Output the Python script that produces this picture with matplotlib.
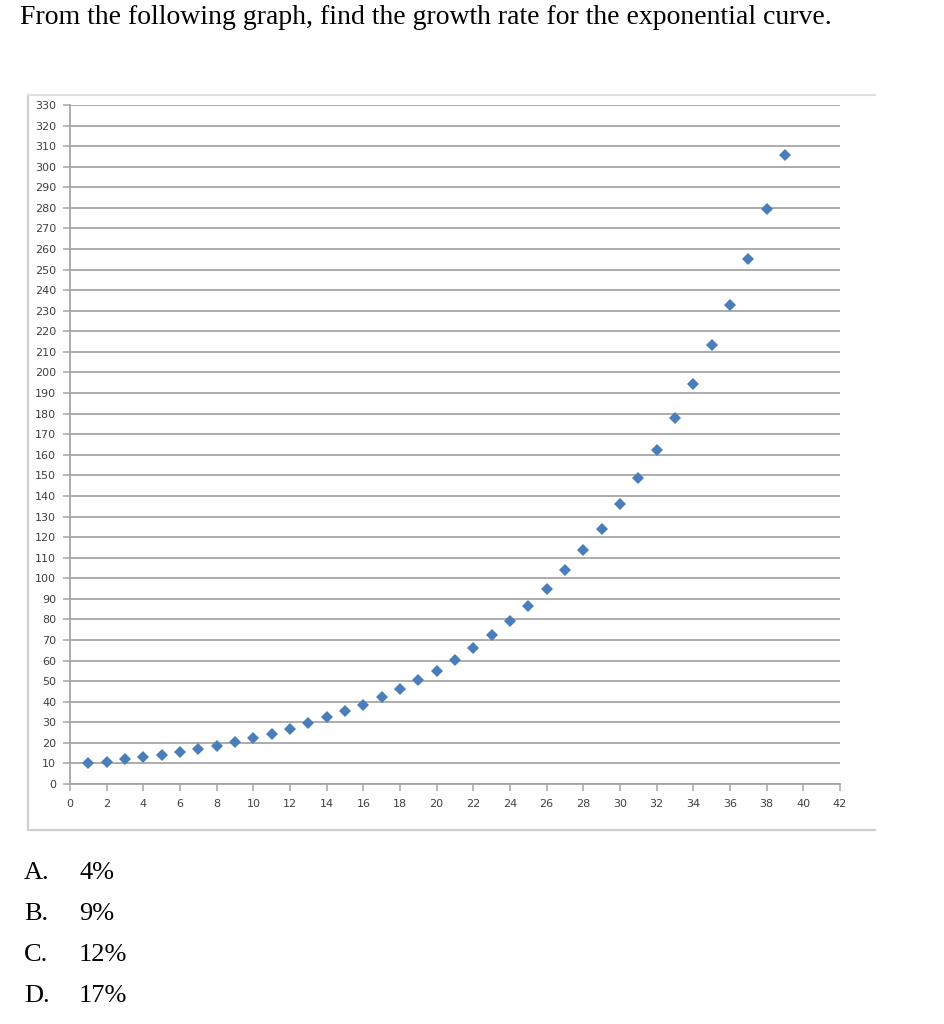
import matplotlib
matplotlib.use("Agg")
import matplotlib.pyplot as plt
from matplotlib.lines import Line2D

title = "From the following graph, find the growth rate for the exponential curve."
x_vals = list(range(1, 40))
y_vals = [10, 10.5, 12.1, 13, 14, 15.4, 16.9, 18.4, 20.3, 22.5,
          24.4, 26.9, 29.5, 32.5, 35.4, 38.5, 42.4, 46.2, 50.4, 54.9,
          60.3, 66, 72.4, 79.4, 86.7, 95, 103.8, 113.7, 123.9, 136,
          148.7, 162.2, 177.9, 194.5, 213.3, 233, 255.2, 279.3, 305.5]
x_ticks = list(range(0, 43, 2))
y_ticks = list(range(0, 331, 10))
option_letters = ["A.", "B.", "C.", "D."]
option_values = ["4%", "9%", "12%", "17%"]

W, H = 944, 1024
fig = plt.figure(figsize=(W / 100, H / 100), dpi=100)
fig.patch.set_facecolor("white")

def fx(px):
    return px / W

def fy(py):
    return 1 - py / H

serif = ["Liberation Serif", "DejaVu Serif"]
fig.text(fx(20), fy(18), title, fontsize=20, family=serif, va="center", ha="left", color="black")

# chart frame (spreadsheet chart border): left, top and bottom edges
frame_col = "#d0d0d0"
fig.add_artist(Line2D([fx(28), fx(28)], [fy(96), fy(828)], color=frame_col, lw=1.6,
                      transform=fig.transFigure))
fig.add_artist(Line2D([fx(28), fx(875)], [fy(95), fy(95)], color="#e0e0e0", lw=1.6,
                      transform=fig.transFigure))
fig.add_artist(Line2D([fx(28), fx(875)], [fy(830), fy(830)], color=frame_col, lw=1.6,
                      transform=fig.transFigure))

ax = fig.add_axes([fx(70), fy(784), fx(840) - fx(70), fy(105) - fy(784)])
ax.set_facecolor("none")
ax.set_zorder(2)
ax.set_xlim(0, 42)
ax.set_ylim(0, 330)
ax.set_xticks(x_ticks)
ax.set_yticks(y_ticks)
ax.grid(axis="y", color="#a6a6a6", linewidth=1.3)
ax.set_axisbelow(True)
for s in ["top", "right"]:
    ax.spines[s].set_visible(False)
for s in ["left", "bottom"]:
    ax.spines[s].set_color("#a6a6a6")
    ax.spines[s].set_linewidth(1.3)
ax.tick_params(axis="both", direction="out", length=5, width=1.1, color="#a6a6a6",
               labelsize=8, labelcolor="#404040")
ax.tick_params(axis="y", pad=5)
ax.tick_params(axis="x", pad=6)

ax.plot(x_vals, y_vals, linestyle="none", marker="D", markersize=6,
        color="#4a7ebb", markeredgewidth=0, clip_on=False)

for i, (l, v) in enumerate(zip(option_letters, option_values)):
    yy = 873 + i * 41
    fig.text(fx(24), fy(yy), l, fontsize=19, family=serif, va="center", ha="left")
    fig.text(fx(79), fy(yy), v, fontsize=19, family=serif, va="center", ha="left")

fig.savefig("out.png", dpi=100)
